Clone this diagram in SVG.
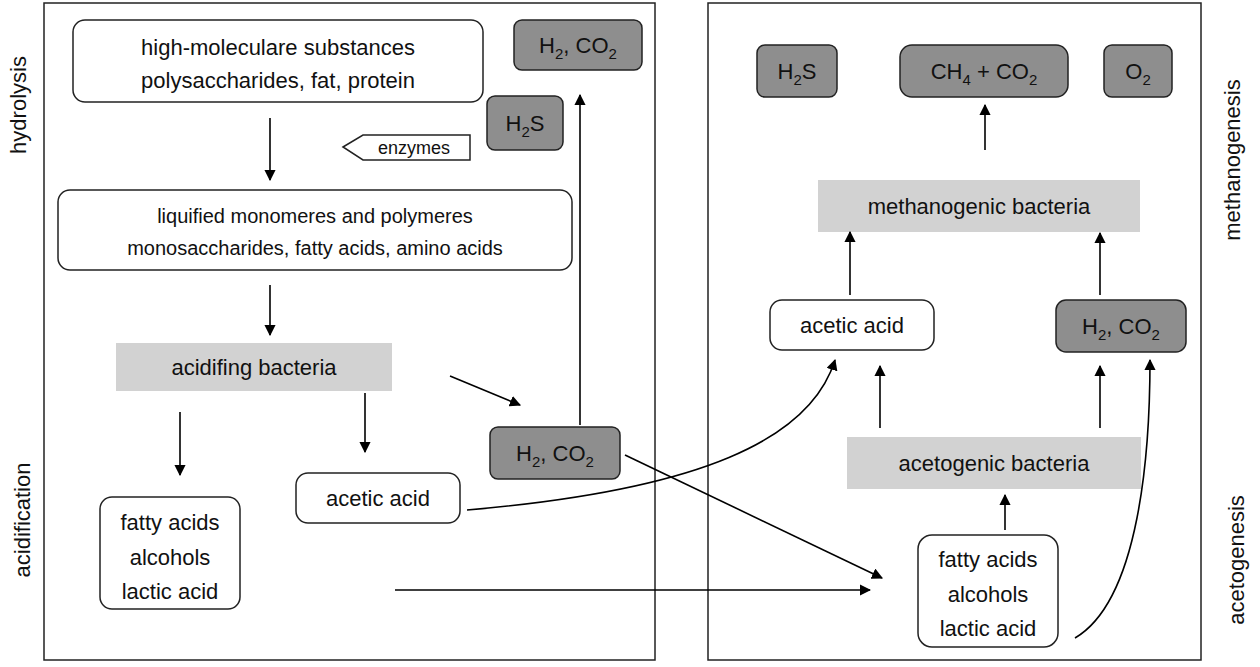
<svg xmlns="http://www.w3.org/2000/svg" width="1260" height="667" viewBox="0 0 1260 667">
<defs>
<marker id="ah" viewBox="0 0 10 10" refX="9" refY="5" markerWidth="7" markerHeight="7" orient="auto"><path d="M0,0 L10,5 L0,10 z" fill="#000"/></marker>
<style>
text{font-family:"Liberation Sans",Arial,sans-serif;fill:#111;text-anchor:middle}
.w{fill:#fff;stroke:#222;stroke-width:1.5}
.d{fill:#8e8e8e;stroke:#222;stroke-width:1.5}
.l{fill:#d2d2d2}
.c line,.c path{stroke:#000;stroke-width:1.6;fill:none;marker-end:url(#ah)}
.t{font-size:22px}
</style>
</defs>
<rect width="1260" height="667" fill="#fff"/>
<rect x="44" y="3" width="611" height="657" fill="none" stroke="#222" stroke-width="1.5"/>
<rect x="708" y="3" width="493" height="657" fill="none" stroke="#222" stroke-width="1.5"/>
<text class="t" transform="translate(26,105) rotate(-90)">hydrolysis</text>
<text class="t" transform="translate(30,520) rotate(-90)">acidification</text>
<text class="t" transform="translate(1240,160) rotate(-90)">methanogenesis</text>
<text class="t" transform="translate(1244,560) rotate(-90)">acetogenesis</text>
<g id="n1"><rect class="w" x="73" y="20" width="410" height="82" rx="12"/><text class="t" x="278" y="55">high-moleculare substances</text><text class="t" x="278" y="88">polysaccharides, fat, protein</text></g>
<g id="n2"><rect class="d" x="514" y="20" width="128" height="50" rx="8"/><text class="t" x="578" y="53">H<tspan font-size="15" dy="6">2</tspan><tspan dy="-6">, CO</tspan><tspan font-size="15" dy="6">2</tspan></text></g>
<g id="n3"><rect class="d" x="487" y="96" width="76" height="54" rx="8"/><text class="t" x="525" y="131">H<tspan font-size="15" dy="6">2</tspan><tspan dy="-6">S</tspan></text></g>
<g id="n4"><polygon class="w" points="343,147 363,135 470,135 470,160 363,160"/><text x="414" y="154" font-size="18">enzymes</text></g>
<g id="n5"><rect class="w" x="58" y="190" width="514" height="80" rx="12"/><text x="315" y="223" font-size="20">liquified monomeres and polymeres</text><text x="315" y="255" font-size="20">monosaccharides, fatty acids, amino acids</text></g>
<g id="n6"><rect class="l" x="116" y="343" width="276" height="48"/><text class="t" x="254" y="375">acidifing bacteria</text></g>
<g id="n7"><rect class="d" x="490" y="427" width="130" height="52" rx="8"/><text class="t" x="555" y="461">H<tspan font-size="15" dy="6">2</tspan><tspan dy="-6">, CO</tspan><tspan font-size="15" dy="6">2</tspan></text></g>
<g id="n8"><rect class="w" x="296" y="473" width="164" height="50" rx="12"/><text class="t" x="378" y="506">acetic acid</text></g>
<g id="n9"><rect class="w" x="100" y="497" width="140" height="112" rx="12"/><text class="t" x="170" y="530">fatty acids</text><text class="t" x="170" y="565">alcohols</text><text class="t" x="170" y="599">lactic acid</text></g>
<g id="n10"><rect class="d" x="757" y="45" width="80" height="52" rx="8"/><text class="t" x="797" y="79">H<tspan font-size="15" dy="6">2</tspan><tspan dy="-6">S</tspan></text></g>
<g id="n11"><rect class="d" x="900" y="45" width="168" height="52" rx="12"/><text class="t" x="984" y="79">CH<tspan font-size="15" dy="6">4</tspan><tspan dy="-6"> + CO</tspan><tspan font-size="15" dy="6">2</tspan></text></g>
<g id="n12"><rect class="d" x="1104" y="45" width="68" height="52" rx="8"/><text class="t" x="1138" y="79">O<tspan font-size="15" dy="6">2</tspan></text></g>
<g id="n13"><rect class="l" x="818" y="180" width="322" height="52"/><text class="t" x="979" y="214">methanogenic bacteria</text></g>
<g id="n14"><rect class="w" x="770" y="300" width="164" height="50" rx="12"/><text class="t" x="852" y="333">acetic acid</text></g>
<g id="n15"><rect class="d" x="1056" y="300" width="130" height="52" rx="10"/><text class="t" x="1121" y="334">H<tspan font-size="15" dy="6">2</tspan><tspan dy="-6">, CO</tspan><tspan font-size="15" dy="6">2</tspan></text></g>
<g id="n16"><rect class="l" x="847" y="437" width="294" height="52"/><text class="t" x="994" y="471">acetogenic bacteria</text></g>
<g id="n17"><rect class="w" x="918" y="535" width="140" height="112" rx="14"/><text class="t" x="988" y="567">fatty acids</text><text class="t" x="988" y="602">alcohols</text><text class="t" x="988" y="636">lactic acid</text></g>
<g class="c" id="connectors">
<line x1="270" y1="118" x2="270" y2="180"/>
<line x1="270" y1="285" x2="270" y2="335"/>
<line x1="180" y1="412" x2="180" y2="475"/>
<line x1="365" y1="393" x2="365" y2="452"/>
<line x1="450" y1="376" x2="520" y2="405"/>
<line x1="580" y1="425" x2="580" y2="95"/>
<line x1="395" y1="590" x2="870" y2="590"/>
<line x1="625" y1="455" x2="882" y2="578"/>
<path d="M467,510 C700,490 810,440 835,360"/>
<line x1="985" y1="150" x2="985" y2="105"/>
<line x1="850" y1="295" x2="850" y2="232"/>
<line x1="1100" y1="295" x2="1100" y2="233"/>
<line x1="880" y1="428" x2="880" y2="366"/>
<line x1="1100" y1="428" x2="1100" y2="366"/>
<line x1="1005" y1="530" x2="1005" y2="495"/>
<path d="M1075,638 C1140,600 1150,450 1150,360"/>
</g>
</svg>
